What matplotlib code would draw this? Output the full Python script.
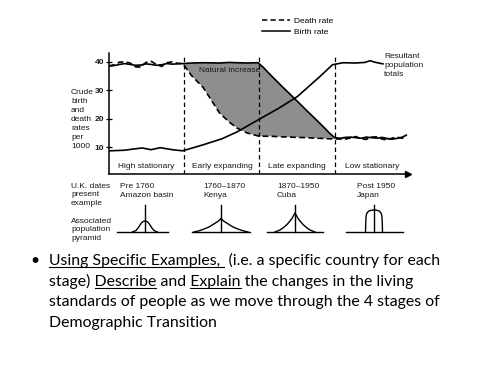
import matplotlib
matplotlib.use('Agg')
import matplotlib.pyplot as plt
from matplotlib.lines import Line2D
import numpy as np

# --- data --------------------------------------------------------------
# x is measured in "stages" (0..4), y in rate per 1000
rate_x = [0.0, 0.07, 0.14, 0.21, 0.28, 0.35, 0.42, 0.49, 0.56, 0.63, 0.70, 0.77, 0.84, 0.91, 0.98,
          1.1, 1.25, 1.47, 1.6, 1.70, 1.83, 1.98,
          2.05, 2.14, 2.3, 2.5, 2.63, 2.76, 2.86, 2.93, 3.0,
          3.07, 3.14, 3.21, 3.28, 3.35, 3.42, 3.49, 3.56, 3.63, 3.70, 3.77, 3.84, 3.90, 3.95]
birth_rate = [38.4, 38.6, 39.0, 39.3, 39.0, 38.7, 38.8, 39.2, 39.0, 38.7, 38.9, 39.3, 39.1, 39.2, 39.3,
              39.5, 39.6, 39.5, 39.7, 39.6, 39.5, 39.6,
              38.0, 35.5, 31.3, 26.2, 22.8, 19.5, 16.9, 15.0, 13.4,
              13.2, 13.5, 13.6, 13.4, 13.2, 13.6, 13.4, 13.2, 13.5, 13.1, 12.9, 13.2, 13.6, 14.3]
death_rate = [38.5, 38.9, 39.8, 39.9, 39.5, 38.2, 38.0, 39.7, 40.1, 39.0, 38.3, 39.6, 39.9, 39.4, 39.3,
              35.0, 31.0, 22.0, 18.8, 16.8, 15.1, 14.0,
              13.9, 13.9, 13.7, 13.5, 13.4, 13.2, 13.1, 13.0, 13.0,
              12.9, 12.9, 13.3, 13.8, 13.0, 12.8, 13.6, 13.7, 12.9, 12.6, 13.3, 13.5, 13.2, 14.0]

pop_x = [0.0, 0.2, 0.44, 0.56, 0.68, 0.84, 0.98, 1.25, 1.5, 1.7, 1.98, 2.25, 2.5, 2.8, 2.97,
         3.11, 3.27, 3.40, 3.47, 3.53, 3.64]
pop_total = [8.8, 9.0, 9.8, 9.2, 9.9, 9.2, 8.8, 10.9, 13.0, 15.4, 19.6, 23.6, 27.7, 34.7, 38.9,
             39.6, 39.5, 39.7, 40.3, 39.8, 39.2]

stage_bounds = [1.0, 1.99, 3.0]
stage_names = ['High stationary', 'Early expanding', 'Late expanding', 'Low stationary']
stage_dates = ['Pre 1760', '1760\u20131870', '1870\u20131950', 'Post 1950']
stage_examples = ['Amazon basin', 'Kenya', 'Cuba', 'Japan']
yticks = [10, 20, 30, 40]

# pyramid outlines: right half (dx, height) in pixels, mirrored when drawn
pyr_dx = [[0, 1.5, 3.3, 5, 6.7, 9, 12.5],
          [0, 2, 4, 7.7, 12, 17.7, 22, 27],
          [0, 1.7, 3, 5, 8, 11.7, 15, 20],
          [0, 3, 5.5, 7.3, 8, 8.3, 8.5]]
pyr_h = [[11, 10.7, 9.3, 7, 4.3, 1.5, 0],
         [13.6, 11.5, 10, 7.7, 5, 2.7, 1.2, 0],
         [19, 16, 13.5, 11, 7.5, 4.3, 2, 0],
         [22, 21.7, 20.8, 18.5, 15, 8, 0]]

bullet_lines = [
    [("Using Specific Examples, ", True), (" (i.e. a specific country for each", False)],
    [("stage) ", False), ("Describe", True), (" and ", False), ("Explain", True),
     (" the changes in the living", False)],
    [("standards of people as we move through the 4 stages of", False)],
    [("Demographic Transition", False)],
]

# --- figure ------------------------------------------------------------
W, H = 500, 375
fig = plt.figure(figsize=(5, 3.75), dpi=100)
small = dict(family='Liberation Sans', fontsize=6.0, color='#1a1a1a')

def ptext(x, y, s, **kw):
    # place text using pixel coordinates of the 500x375 image (y from top)
    opts = dict(small)
    opts.update(kw)
    return fig.text(x / W, 1 - y / H, s, **opts)

def plines(x, y0, lines, dy=8.9, **kw):
    for i, s in enumerate(lines):
        ptext(x, y0 + i * dy, s, va='center', **kw)

ax = fig.add_axes([109 / W, 1 - 174 / H, 301 / W, 121 / H])
ax.set_xlim(0, 4)
ax.set_ylim(0.7, 43)

rx = np.array(rate_x)
br = np.array(birth_rate)
dr = np.array(death_rate)
ax.fill_between(rx, dr, br, where=br > dr, interpolate=True, color='#8e8e8e', lw=0)
ax.plot(rx, br, color='k', lw=1.2)
ax.plot(rx, dr, color='k', lw=1.2, ls=(0, (3.5, 2)))
ax.plot(pop_x, pop_total, color='k', lw=1.2)
ax.vlines(stage_bounds, 0.7, 42.2, colors='k', lw=0.9, linestyles=(0, (3.5, 2.5)))

for i, name in enumerate(stage_names):
    ax.text(i + 0.5, 3.3, name, ha='center', va='center', **small)
ax.text(1.19, 36.9, 'Natural increase', ha='left', va='center', **small)

for s in ['top', 'right']:
    ax.spines[s].set_visible(False)
ax.spines['left'].set_linewidth(1.1)
ax.spines['bottom'].set_linewidth(1.1)
ax.plot([3.97], [0.7], marker='>', ms=4.5, color='k', clip_on=False)
ax.set_xticks([])
ax.set_yticks(yticks)
ax.set_yticklabels([str(t) for t in yticks], family='Liberation Sans', fontsize=6.0,
                   fontweight='bold', color='#1a1a1a')
ax.tick_params(axis='y', direction='inout', length=4, width=0.9, pad=1.5)
ax.patch.set_alpha(0)

# legend
leg_handles = [Line2D([], [], color='k', lw=1.1, ls=(0, (3.5, 2))),
               Line2D([], [], color='k', lw=1.1)]
ax.legend(leg_handles, ['Death rate', 'Birth rate'], loc='upper left',
          bbox_to_anchor=(262 / W, 1 - 17 / H), bbox_transform=fig.transFigure,
          frameon=False, prop={'family': 'Liberation Sans', 'size': 6.0},
          handlelength=3.3, handletextpad=0.5, labelspacing=0.4, borderpad=0,
          borderaxespad=0)

plines(384, 57, ['Resultant', 'population', 'totals'])
plines(71, 93, ['Crude', 'birth', 'and', 'death', 'rates', 'per', '1000'])
plines(71, 186, ['U.K. dates', 'present', 'example'])
plines(71, 221, ['Associated', 'population', 'pyramid'])
for x0, d, e in zip([120, 203, 277, 357], stage_dates, stage_examples):
    plines(x0, 186, [d, e], dy=9.2)

# pyramids, in pixel units
pax = fig.add_axes([109 / W, 1 - 240 / H, 301 / W, 40 / H])
pax.set_xlim(109, 410)
pax.set_ylim(-8, 32)
pax.axis('off')
pyr_centers = [145, 221, 295, 374]
base_left = [-28, -29, -28, -28]
base_right = [23, 29, 28, 29]
for c, dx, h, bl, brt in zip(pyr_centers, pyr_dx, pyr_h, base_left, base_right):
    dx = np.array(dx)
    h = np.array(h)
    xs = np.concatenate([c - dx[::-1], c + dx[1:]])
    ys = np.concatenate([h[::-1], h[1:]])
    pax.plot(xs, ys, color='k', lw=1.0)
    pax.plot([c + bl, c + brt], [0, 0], color='k', lw=1.0)
    pax.plot([c, c], [0, 27], color='k', lw=1.0)

# --- bullet text with underlines -------------------------------------------
body = 'Lato'
fig.canvas.draw()
rend = fig.canvas.get_renderer()

def text_w(s, size):
    t = fig.text(0, 0, 'I' + s + 'I', fontsize=size, family=body)
    w = t.get_window_extent(rend).width
    t.set_text('II')
    w -= t.get_window_extent(rend).width
    t.remove()
    return w

fs = 10 * 392 / text_w(bullet_lines[2][0][0], 10)
baselines = [265, 286, 306, 326.5]
x_left = 49
ptext(30, 265, '\u2022', family=body, fontsize=fs, color='k', va='baseline')
for runs, yb in zip(bullet_lines, baselines):
    full = ''.join(s for s, _ in runs)
    ptext(x_left, yb, full, family=body, fontsize=fs, color='k', va='baseline')
    pos = 0
    for s, ul in runs:
        if ul:
            x1 = x_left + text_w(full[:pos], fs) if pos else x_left
            x2 = x_left + text_w(full[:pos + len(s)], fs)
            fig.add_artist(Line2D([x1 / W, x2 / W], [1 - (yb + 2.2) / H] * 2,
                                  color='k', lw=0.8, transform=fig.transFigure))
        pos += len(s)

fig.savefig('out.png', dpi=100)
